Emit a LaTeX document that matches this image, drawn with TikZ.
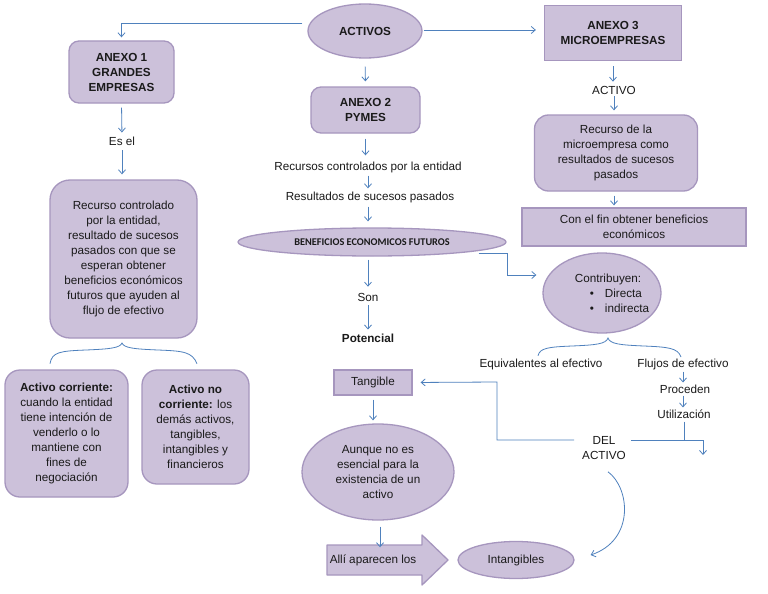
\documentclass[tikz,border=0pt]{standalone}
\usepackage{fontspec}
\setmainfont{Liberation Sans}
\newfontfamily\calib{Carlito}
\usetikzlibrary{arrows.meta,shapes.geometric,calc}
\definecolor{fillc}{HTML}{CCC1DA}
\definecolor{bordc}{HTML}{A696BE}
\definecolor{arrc}{HTML}{4F81BD}
\definecolor{txtc}{HTML}{1A1A1A}
\begin{document}
\begin{tikzpicture}[x=1pt,y=-1pt,
  every node/.style={font=\fontsize{11.7}{15}\selectfont, text=txtc, align=center, inner sep=0pt},
  rbox/.style={draw=bordc, fill=fillc, line width=1.3pt, rounded corners=10pt},
  sbox/.style={draw=bordc, fill=fillc, line width=1.3pt},
  ell/.style={draw=bordc, fill=fillc, line width=1.3pt, ellipse},
  hdr/.style={font=\bfseries\fontsize{11.7}{15}\selectfont},
  arr/.style={draw=arrc, line width=0.8pt, -{Straight Barb[length=4pt,width=7pt]}},
  ln/.style={draw=arrc, line width=0.8pt},
  shp/.style={draw=bordc, fill=fillc, line width=1.3pt, line join=round}
]
\useasboundingbox (0,0) rectangle (768,594);
\fill[white] (0,0) rectangle (768,594);

% top
\node[ell, hdr, minimum width=114, minimum height=54] (activos) at (365,31) {ACTIVOS};
\node[rbox, hdr, minimum width=105, minimum height=62] (a1) at (121.5,72) {ANEXO 1\\GRANDES\\EMPRESAS};
\node[rbox, hdr, minimum width=109, minimum height=46] (a2) at (365.5,110) {ANEXO 2\\PYMES};
\node[sbox, hdr, minimum width=137, minimum height=55] (a3) at (613,33) {ANEXO 3\\MICROEMPRESAS};

% left column
\node (esel) at (122,141) {Es el};
\node[rbox, rounded corners=20pt, minimum width=147, minimum height=158] (a1txt) at (123.5,259)
  {Recurso controlado\\por la entidad,\\resultado de sucesos\\pasados con que se\\esperan obtener\\beneficios económicos\\futuros que ayuden al\\flujo de efectivo};
\node[rbox, rounded corners=15pt, minimum width=123, minimum height=127] (corr) at (66.5,433.5)
  {\textbf{Activo corriente:}\\cuando la entidad\\tiene intención de\\venderlo o lo\\mantiene con\\fines de\\negociación};
\node[rbox, rounded corners=15pt, minimum width=107, minimum height=114] (nocorr) at (195.5,427)
  {\textbf{Activo no}\\\textbf{corriente:} los\\demás activos,\\tangibles,\\intangibles y\\financieros};

% middle column
\node (rec) at (368,167) {Recursos controlados por la entidad};
\node (res) at (370,197) {Resultados de sucesos pasados};
\node[ell, minimum width=268, minimum height=28, font=\calib\bfseries\fontsize{10.3}{12}\selectfont] (ben) at (372,242) {BENEFICIOS ECONOMICOS FUTUROS};
\node (son) at (368,297) {Son};
\node[hdr] (pot) at (368,338) {Potencial};
\node[sbox, minimum width=78, minimum height=25] (tang) at (373,382.5) {Tangible};
\node[ell, minimum width=152, minimum height=96] (aunque) at (378,472) {Aunque no es\\esencial para la\\existencia de un\\activo};
\draw[shp] (327,545) -- (422,545) -- (422,535) -- (448,560) -- (422,585) -- (422,575) -- (327,575) -- cycle;
\node (alli) at (373,560) {Allí aparecen los};
\node[ell, minimum width=116, minimum height=37] (intang) at (516,560) {Intangibles};

% right column
\node (activo3) at (614,90) {ACTIVO};
\node[rbox, rounded corners=14pt, minimum width=163, minimum height=76] (micro) at (616,153)
  {Recurso de la\\microempresa como\\resultados de sucesos\\pasados};
\node[sbox, minimum width=224, minimum height=38] (confin) at (634,227) {Con el fin obtener beneficios\\económicos};
\node[ell, minimum width=118, minimum height=80] (contrib) at (602,293) {};
\node[align=left] (contribtxt) at (612,293)
  {Contribuyen:\\\hspace{15pt}\textbullet\hspace{11pt}Directa\\\hspace{15pt}\textbullet\hspace{11pt}indirecta};
\node (equiv) at (541,364) {Equivalentes al efectivo};
\node (flujos) at (683,364) {Flujos de efectivo};
\node (proc) at (685,389) {Proceden};
\node (util) at (684,414) {Utilización};
\node (del) at (604,448) {DEL\\ACTIVO};
\coordinate (jn) at (684,440);
\coordinate (endr) at (703,455);

% connectors
\draw[arr, shorten >=3pt] ($(activos.west)+(-5,-8)$) -| (a1.north);
\draw[arr, shorten <=1pt, shorten >=8pt] ($(activos.east)+(0,-1)$) -- ($(a3.west)+(0,-3)$);
\draw[arr, shorten <=8pt, shorten >=5pt] (activos.south) -- (a2.north);
\draw[arr, shorten <=4pt, shorten >=4pt] (a1.south) -- (esel.north);
\draw[arr, shorten <=5pt, shorten >=5pt] (esel.south) -- (esel.south |- a1txt.north);
\draw[arr, shorten <=5pt, shorten >=6pt] (a2.south) -- (a2.south |- rec.north);
\draw[arr, shorten <=3pt, shorten >=3pt] (rec.south) -- (rec.south |- res.north);
\draw[arr, shorten <=4pt, shorten >=6pt] (res.south -| rec.south) -- (rec.south |- ben.north);
\draw[arr, shorten <=3pt, shorten >=6pt] (ben.south -| son.north) -- (son.north);
\draw[arr, shorten <=4pt, shorten >=4pt] (son.south) -- (pot.north);
\draw[arr, shorten <=4pt, shorten >=3pt] (tang.south) -- (tang.south |- aunque.north);
\draw[arr, shorten <=6pt, shorten >=2pt] ($(aunque.south)+(2,0)$) -- ($(alli.north)+(7,-5)$);
\draw[arr, shorten <=5pt, shorten >=4pt] (a3.south) -- (a3.south |- activo3.north);
\draw[arr, shorten <=2pt, shorten >=4pt] (activo3.south) -- (activo3.south |- micro.north);
\draw[arr, shorten <=4pt, shorten >=2pt] ($(micro.south)+(-2,0)$) -- ($(micro.south |- confin.north)+(-2,0)$);
\draw[arr, shorten >=6pt] ($(ben.east)+(-28,11)$) -- ($(ben.east)+(1,11)$) -- ($(ben.east)+(1,33)$) -- (contrib.west |- 0,275);
\draw[arr, shorten <=2pt, shorten >=2pt] (flujos.south) -- (flujos.south |- proc.north);
\draw[arr, shorten <=2pt, shorten >=2pt] (flujos.south |- proc.south) -- (flujos.south |- util.north);
\draw[ln, shorten <=3pt] (util.south) -- (jn);
\draw[arr] ($(del.east)+(5,-8)$) -- (endr |- jn) -- (endr);
\draw[arr, shorten >=8pt] ($(del.west)+(-8,-8)$) -- (497,440) -- (497,382) -- (tang.east);
\draw[arr] ($(del.south)+(4,12)$) .. controls (630,488) and (635,540) .. ($(intang.east)+(16,-5)$);

% braces
\draw[ln] ($(a1txt.south)+(-73.5,25)$) .. controls (52,352) and (60,351) .. (86,350)
  .. controls (110,349) and (120,348) .. (122,343)
  .. controls (124,348) and (134,349) .. (158,350)
  .. controls (184,351) and (192,352) .. ($(a1txt.south)+(73.5,25)$);
\draw[ln] ($(contrib.south)+(-64,22)$) .. controls (540,348) and (548,347) .. (572,346)
  .. controls (596,345) and (606,344) .. (608,338)
  .. controls (610,344) and (620,345) .. (644,346)
  .. controls (668,347) and (678,348) .. (681,357);
\end{tikzpicture}
\end{document}
